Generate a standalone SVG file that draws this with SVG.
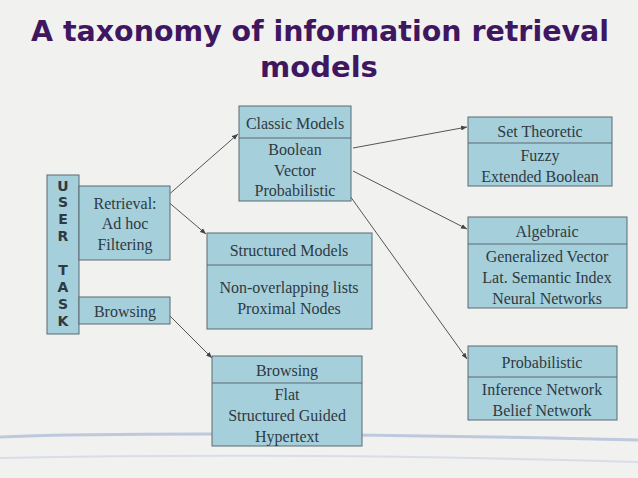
<svg xmlns="http://www.w3.org/2000/svg" width="638" height="478" viewBox="0 0 638 478">
<defs>
<style>
.b{fill:#a6cfdc;stroke:#5a6a72;stroke-width:1}
.d{stroke:#5a6a72;stroke-width:1}
.t{font-size:16px;fill:#2e3a40;text-anchor:middle}
.u{font-family:'DejaVu Sans',sans-serif;font-weight:bold;font-size:14px;fill:#2e3a40;text-anchor:middle}
.c{stroke:#555;stroke-width:1;fill:none;marker-end:url(#a)}
</style>
<marker id="a" viewBox="0 0 10 10" refX="10" refY="5" markerWidth="6" markerHeight="6" orient="auto"><path d="M0,1 L10,5 L0,9 z" fill="#444"/></marker>
</defs>
<rect width="638" height="478" fill="#f1f1f0"/>
<path d="M0,437 Q200,430 638,440" stroke="#a9b8d6" stroke-width="3" fill="none" opacity="0.7"/>
<path d="M0,458 Q300,452 638,462" stroke="#d8dde8" stroke-width="2" fill="none"/>
<g id="title" font-family="'DejaVu Sans',sans-serif" font-weight="bold" font-size="29" fill="#3f1660" text-anchor="middle">
<text x="320" y="41" textLength="578" lengthAdjust="spacingAndGlyphs">A taxonomy of information retrieval</text>
<text x="319" y="77">models</text>
</g>
<g id="connectors">
<line class="c" x1="166" y1="197" x2="238" y2="134"/>
<line class="c" x1="166" y1="200" x2="206" y2="234"/>
<line class="c" x1="167" y1="313" x2="212" y2="358"/>
<line class="c" x1="353" y1="148" x2="467" y2="127"/>
<line class="c" x1="353" y1="171" x2="467" y2="229"/>
<line class="c" x1="350" y1="196" x2="467" y2="359"/>
</g>
<g id="usertask"><rect class="b" x="47" y="175" width="32" height="159"/>
<text class="u" x="63" y="191">U</text><text class="u" x="63" y="207">S</text><text class="u" x="63" y="224">E</text><text class="u" x="63" y="241">R</text>
<text class="u" x="63" y="275">T</text><text class="u" x="63" y="292">A</text><text class="u" x="63" y="309">S</text><text class="u" x="63" y="326">K</text></g>
<g font-family="Liberation Serif, DejaVu Serif, serif">
<g id="retrieval"><rect class="b" x="79" y="186" width="91" height="74"/>
<text class="t" x="125" y="209">Retrieval:</text><text class="t" x="125" y="229">Ad hoc</text><text class="t" x="125" y="250">Filtering</text></g>
<g id="browsing"><rect class="b" x="79" y="297" width="91" height="27"/>
<text class="t" x="125" y="317">Browsing</text></g>
<g id="classic"><rect class="b" x="239" y="106" width="112" height="95"/><line class="d" x1="239" y1="138" x2="351" y2="138"/>
<text class="t" x="295" y="129">Classic Models</text><text class="t" x="295" y="155">Boolean</text><text class="t" x="295" y="176">Vector</text><text class="t" x="295" y="196">Probabilistic</text></g>
<g id="structured"><rect class="b" x="207" y="233" width="165" height="96"/><line class="d" x1="207" y1="265" x2="372" y2="265"/>
<text class="t" x="289" y="256">Structured Models</text><text class="t" x="289" y="293">Non-overlapping lists</text><text class="t" x="289" y="314">Proximal Nodes</text></g>
<g id="browsing2"><rect class="b" x="212" y="356" width="150" height="90"/><line class="d" x1="212" y1="383" x2="362" y2="383"/>
<text class="t" x="287" y="376">Browsing</text><text class="t" x="287" y="400">Flat</text><text class="t" x="287" y="421">Structured Guided</text><text class="t" x="287" y="442">Hypertext</text></g>
<g id="settheoretic"><rect class="b" x="468" y="117" width="144" height="69"/><line class="d" x1="468" y1="143" x2="612" y2="143"/>
<text class="t" x="540" y="137">Set Theoretic</text><text class="t" x="540" y="161">Fuzzy</text><text class="t" x="540" y="182">Extended Boolean</text></g>
<g id="algebraic"><rect class="b" x="468" y="217" width="159" height="91"/><line class="d" x1="468" y1="244" x2="627" y2="244"/>
<text class="t" x="547" y="237">Algebraic</text><text class="t" x="547" y="262">Generalized Vector</text><text class="t" x="547" y="283">Lat. Semantic Index</text><text class="t" x="547" y="304">Neural Networks</text></g>
<g id="probabilistic"><rect class="b" x="468" y="346" width="149" height="74"/><line class="d" x1="468" y1="377" x2="617" y2="377"/>
<text class="t" x="542" y="368">Probabilistic</text><text class="t" x="542" y="395">Inference Network</text><text class="t" x="542" y="416">Belief Network</text></g>
</g>
</svg>
